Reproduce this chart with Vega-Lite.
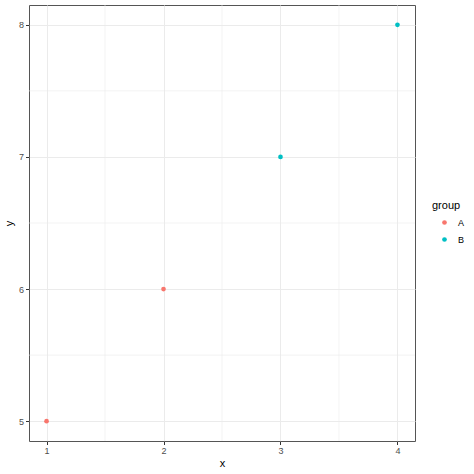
{
  "$schema": "https://vega.github.io/schema/vega-lite/v6.json",
  "width": 386,
  "height": 436,
  "autosize": {"type": "none"},
  "padding": {"left": 29, "top": 5, "right": 59, "bottom": 33},
  "background": "white",
  "config": {
    "font": "Liberation Sans",
    "view": {"stroke": "#555555", "strokeWidth": 1},
    "axis": {
      "domain": false,
      "grid": true,
      "gridColor": "#ebebeb",
      "gridWidth": 1,
      "tickColor": "#333333",
      "tickSize": 3.5,
      "labelColor": "#4d4d4d",
      "labelFontSize": 9,
      "labelPadding": 2,
      "titleFontSize": 11,
      "titleFontWeight": "normal",
      "titleColor": "black"
    }
  },
  "datasets": {
    "points": [
      {"x": 1, "y": 5, "group": "A"},
      {"x": 2, "y": 6, "group": "A"},
      {"x": 3, "y": 7, "group": "B"},
      {"x": 4, "y": 8, "group": "B"}
    ],
    "minorx": [{"x": 1.5}, {"x": 2.5}, {"x": 3.5}],
    "minory": [{"y": 5.5}, {"y": 6.5}, {"y": 7.5}]
  },
  "layer": [
    {
      "data": {"name": "minorx"},
      "mark": {"type": "rule", "color": "#ebebeb", "strokeWidth": 0.6},
      "encoding": {
        "x": {"field": "x", "type": "quantitative"}
      }
    },
    {
      "data": {"name": "minory"},
      "mark": {"type": "rule", "color": "#ebebeb", "strokeWidth": 0.6},
      "encoding": {
        "y": {"field": "y", "type": "quantitative"}
      }
    },
    {
      "data": {"name": "points"},
      "mark": {"type": "point", "filled": true, "size": 22, "opacity": 1},
      "encoding": {
        "x": {
          "field": "x",
          "type": "quantitative",
          "scale": {"domain": [0.85, 4.15], "nice": false, "zero": false},
          "axis": {"values": [1, 2, 3, 4], "format": "d", "title": "x", "titlePadding": 2}
        },
        "y": {
          "field": "y",
          "type": "quantitative",
          "scale": {"domain": [4.85, 8.15], "nice": false, "zero": false},
          "axis": {"values": [5, 6, 7, 8], "format": "d", "title": "y", "titlePadding": 4}
        },
        "color": {
          "field": "group",
          "type": "nominal",
          "scale": {"domain": ["A", "B"], "range": ["#F8766D", "#00BFC4"]},
          "legend": {
            "orient": "none",
            "legendX": 403,
            "legendY": 195,
            "title": "group",
            "titleFontSize": 11,
            "titleFontWeight": "normal",
            "titleColor": "black",
            "titlePadding": 7,
            "labelFontSize": 9,
            "labelColor": "black",
            "labelOffset": 9,
            "symbolOffset": 8,
            "symbolSize": 22,
            "symbolType": "circle",
            "rowPadding": 7,
            "padding": 0
          }
        }
      }
    }
  ]
}
